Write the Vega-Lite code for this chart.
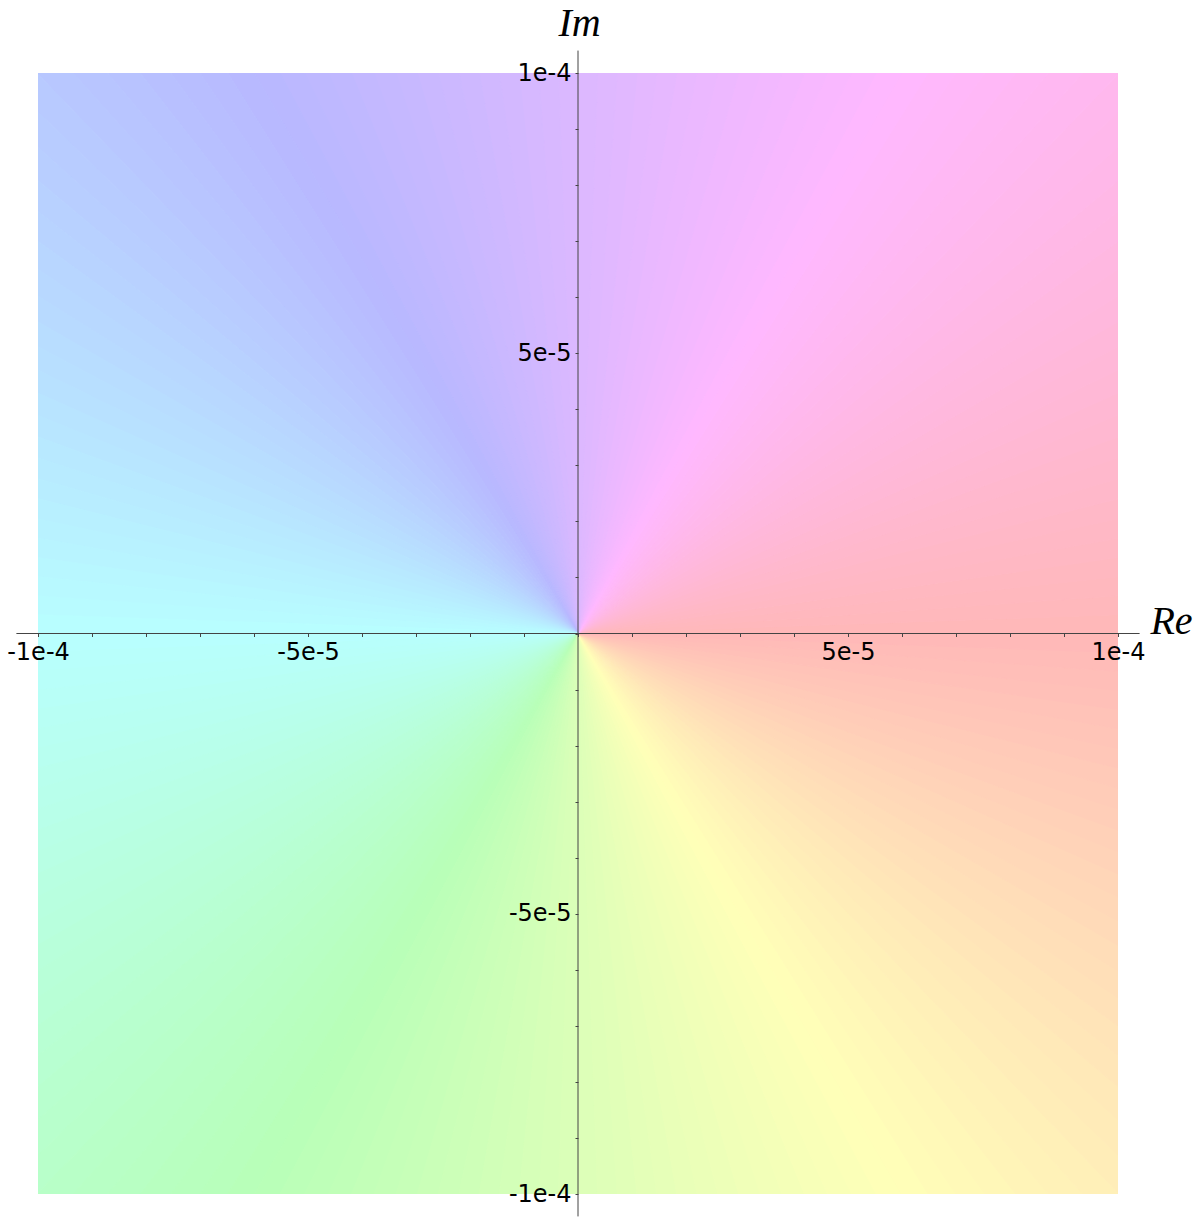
{
  "$schema": "https://vega.github.io/schema/vega-lite/v6.json",
  "width": 1080,
  "height": 1121,
  "autosize": {"type": "none"},
  "padding": {"left": 38, "top": 73, "right": 82, "bottom": 30},
  "background": "white",
  "config": {"view": {"stroke": null}},
  "layer": [
    {
      "data": {"values": [
        {"a":0,"b":2},{"a":2,"b":4},{"a":4,"b":6},{"a":6,"b":8},{"a":8,"b":10},{"a":10,"b":12},{"a":12,"b":14},{"a":14,"b":16},{"a":16,"b":18},{"a":18,"b":20},
        {"a":20,"b":22},{"a":22,"b":24},{"a":24,"b":26},{"a":26,"b":28},{"a":28,"b":30},{"a":30,"b":32},{"a":32,"b":34},{"a":34,"b":36},{"a":36,"b":38},{"a":38,"b":40},
        {"a":40,"b":42},{"a":42,"b":44},{"a":44,"b":46},{"a":46,"b":48},{"a":48,"b":50},{"a":50,"b":52},{"a":52,"b":54},{"a":54,"b":56},{"a":56,"b":58},{"a":58,"b":60},
        {"a":60,"b":62},{"a":62,"b":64},{"a":64,"b":66},{"a":66,"b":68},{"a":68,"b":70},{"a":70,"b":72},{"a":72,"b":74},{"a":74,"b":76},{"a":76,"b":78},{"a":78,"b":80},
        {"a":80,"b":82},{"a":82,"b":84},{"a":84,"b":86},{"a":86,"b":88},{"a":88,"b":90},{"a":90,"b":92},{"a":92,"b":94},{"a":94,"b":96},{"a":96,"b":98},{"a":98,"b":100},
        {"a":100,"b":102},{"a":102,"b":104},{"a":104,"b":106},{"a":106,"b":108},{"a":108,"b":110},{"a":110,"b":112},{"a":112,"b":114},{"a":114,"b":116},{"a":116,"b":118},{"a":118,"b":120},
        {"a":120,"b":122},{"a":122,"b":124},{"a":124,"b":126},{"a":126,"b":128},{"a":128,"b":130},{"a":130,"b":132},{"a":132,"b":134},{"a":134,"b":136},{"a":136,"b":138},{"a":138,"b":140},
        {"a":140,"b":142},{"a":142,"b":144},{"a":144,"b":146},{"a":146,"b":148},{"a":148,"b":150},{"a":150,"b":152},{"a":152,"b":154},{"a":154,"b":156},{"a":156,"b":158},{"a":158,"b":160},
        {"a":160,"b":162},{"a":162,"b":164},{"a":164,"b":166},{"a":166,"b":168},{"a":168,"b":170},{"a":170,"b":172},{"a":172,"b":174},{"a":174,"b":176},{"a":176,"b":178},{"a":178,"b":180},
        {"a":180,"b":182},{"a":182,"b":184},{"a":184,"b":186},{"a":186,"b":188},{"a":188,"b":190},{"a":190,"b":192},{"a":192,"b":194},{"a":194,"b":196},{"a":196,"b":198},{"a":198,"b":200},
        {"a":200,"b":202},{"a":202,"b":204},{"a":204,"b":206},{"a":206,"b":208},{"a":208,"b":210},{"a":210,"b":212},{"a":212,"b":214},{"a":214,"b":216},{"a":216,"b":218},{"a":218,"b":220},
        {"a":220,"b":222},{"a":222,"b":224},{"a":224,"b":226},{"a":226,"b":228},{"a":228,"b":230},{"a":230,"b":232},{"a":232,"b":234},{"a":234,"b":236},{"a":236,"b":238},{"a":238,"b":240},
        {"a":240,"b":242},{"a":242,"b":244},{"a":244,"b":246},{"a":246,"b":248},{"a":248,"b":250},{"a":250,"b":252},{"a":252,"b":254},{"a":254,"b":256},{"a":256,"b":258},{"a":258,"b":260},
        {"a":260,"b":262},{"a":262,"b":264},{"a":264,"b":266},{"a":266,"b":268},{"a":268,"b":270},{"a":270,"b":272},{"a":272,"b":274},{"a":274,"b":276},{"a":276,"b":278},{"a":278,"b":280},
        {"a":280,"b":282},{"a":282,"b":284},{"a":284,"b":286},{"a":286,"b":288},{"a":288,"b":290},{"a":290,"b":292},{"a":292,"b":294},{"a":294,"b":296},{"a":296,"b":298},{"a":298,"b":300},
        {"a":300,"b":302},{"a":302,"b":304},{"a":304,"b":306},{"a":306,"b":308},{"a":308,"b":310},{"a":310,"b":312},{"a":312,"b":314},{"a":314,"b":316},{"a":316,"b":318},{"a":318,"b":320},
        {"a":320,"b":322},{"a":322,"b":324},{"a":324,"b":326},{"a":326,"b":328},{"a":328,"b":330},{"a":330,"b":332},{"a":332,"b":334},{"a":334,"b":336},{"a":336,"b":338},{"a":338,"b":340},
        {"a":340,"b":342},{"a":342,"b":344},{"a":344,"b":346},{"a":346,"b":348},{"a":348,"b":350},{"a":350,"b":352},{"a":352,"b":354},{"a":354,"b":356},{"a":356,"b":358},{"a":358,"b":360}
      ]},
      "mark": {"type": "arc", "radius": 800, "clip": true, "strokeWidth": 1},
      "encoding": {
        "x": {"datum": 0, "type": "quantitative", "scale": {"domain": [-0.0001, 0.0001], "nice": false, "zero": false}},
        "y": {"datum": 0, "type": "quantitative", "scale": {"domain": [-0.0001, 0.0001], "nice": false, "zero": false}},
        "theta": {"field": "a", "type": "quantitative", "stack": null, "scale": {"domain": [0, 360], "range": [1.5707963267948966, -4.71238898038469], "zero": false, "nice": false}},
        "theta2": {"field": "b"},
        "color": {"field": "a", "type": "quantitative", "legend": null, "scale": {"domain": [-1, 59, 119, 179, 239, 299, 359], "range": ["#ffb8b8", "#ffb8ff", "#b8b8ff", "#b8ffff", "#b8ffb8", "#ffffb8", "#ffb8b8"], "interpolate": "rgb"}},
        "stroke": {"field": "a", "type": "quantitative", "legend": null, "scale": {"domain": [-1, 59, 119, 179, 239, 299, 359], "range": ["#ffb8b8", "#ffb8ff", "#b8b8ff", "#b8ffff", "#b8ffb8", "#ffffb8", "#ffb8b8"], "interpolate": "rgb"}}
      }
    },
    {
      "data": {"values": [{"x1": -0.000104, "x2": 0.000104, "y": 0}]},
      "mark": {"type": "rule", "color": "#444444", "strokeWidth": 1},
      "encoding": {
        "x": {"field": "x1", "type": "quantitative", "scale": {"domain": [-0.0001, 0.0001], "nice": false, "zero": false},
          "axis": {
            "values": [-0.0001, -0.00009, -0.00008, -0.00007, -0.00006, -0.00005, -0.00004, -0.00003, -0.00002, -0.00001, 0, 0.00001, 0.00002, 0.00003, 0.00004, 0.00005, 0.00006, 0.00007, 0.00008, 0.00009, 0.0001],
            "labelExpr": "datum.value === 0.0001 ? '1e-4' : datum.value === 0.00005 ? '5e-5' : datum.value === -0.00005 ? '-5e-5' : datum.value === -0.0001 ? '-1e-4' : ''",
            "zindex": 1,
            "offset": -560.5, "domain": false, "grid": false, "ticks": true, "tickSize": 3, "tickColor": "#444444", "tickWidth": 1,
            "labelFont": "DejaVu Sans", "labelFontSize": 24, "labelColor": "#000000", "labelPadding": 4, "labelOverlap": false, "labelFlush": false,
            "title": "Re", "titleFont": "Liberation Serif", "titleFontStyle": "italic", "titleFontWeight": "normal", "titleFontSize": 40, "titleColor": "#000000",
            "titleX": 1133, "titleY": 0, "titleAlign": "center", "titleBaseline": "alphabetic", "titleAngle": 0
          }},
        "x2": {"field": "x2"},
        "y": {"field": "y", "type": "quantitative", "scale": {"domain": [-0.0001, 0.0001], "nice": false, "zero": false}}
      }
    },
    {
      "data": {"values": [{"x": 0, "y1": -0.000104, "y2": 0.000104}]},
      "mark": {"type": "rule", "color": "#444444", "strokeWidth": 1},
      "encoding": {
        "x": {"field": "x", "type": "quantitative", "scale": {"domain": [-0.0001, 0.0001], "nice": false, "zero": false}},
        "y": {"field": "y1", "type": "quantitative", "scale": {"domain": [-0.0001, 0.0001], "nice": false, "zero": false},
          "axis": {
            "values": [-0.0001, -0.00009, -0.00008, -0.00007, -0.00006, -0.00005, -0.00004, -0.00003, -0.00002, -0.00001, 0, 0.00001, 0.00002, 0.00003, 0.00004, 0.00005, 0.00006, 0.00007, 0.00008, 0.00009, 0.0001],
            "labelExpr": "datum.value === 0.0001 ? '1e-4' : datum.value === 0.00005 ? '5e-5' : datum.value === -0.00005 ? '-5e-5' : datum.value === -0.0001 ? '-1e-4' : ''",
            "zindex": 1,
            "offset": -540, "domain": false, "grid": false, "ticks": true, "tickSize": 3, "tickColor": "#444444", "tickWidth": 1,
            "labelFont": "DejaVu Sans", "labelFontSize": 24, "labelColor": "#000000", "labelPadding": 4, "labelOverlap": false, "labelFlush": false,
            "title": "Im", "titleFont": "Liberation Serif", "titleFontStyle": "italic", "titleFontWeight": "normal", "titleFontSize": 40, "titleColor": "#000000",
            "titleX": 1, "titleY": -38, "titleAlign": "center", "titleBaseline": "alphabetic", "titleAngle": 0
          }},
        "y2": {"field": "y2"}
      }
    }
  ]
}
